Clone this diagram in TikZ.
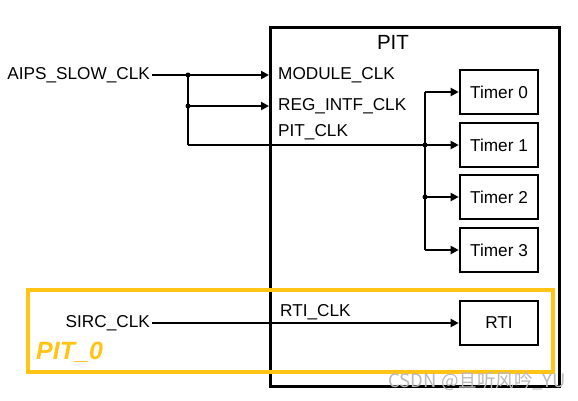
\documentclass[tikz,border=0pt]{standalone}
\usepackage{fontspec}
\setmainfont{Liberation Sans}
\newfontfamily\cjk{Noto Sans CJK SC}
\usetikzlibrary{arrows.meta}
\definecolor{pityellow}{RGB}{255,196,20}
\begin{document}
\begin{tikzpicture}[x=1pt,y=-1pt,
  lbl/.style={font=\fontsize{17.2}{19}\selectfont, inner sep=2pt},
  tbox/.style={draw, line width=2.6pt, minimum width=78pt, minimum height=44pt, font=\fontsize{17.2}{19}\selectfont, inner sep=0pt},
  wire/.style={line width=2.3pt},
  arr/.style={wire, -{Triangle[length=8pt,width=8pt]}},
  jdot/.style={circle, fill, inner sep=0pt, minimum size=5pt}]
\useasboundingbox[fill=white] (0,0) rectangle (578,401);

% PIT block
\node[draw, line width=3pt, minimum width=289pt, minimum height=359pt, anchor=north west, inner sep=0pt] (pit) at (269,26) {};
\node[font=\fontsize{20.5}{22}\selectfont, inner sep=0pt] (pitlbl) at (393,42) {PIT};

% timers
\node[tbox] (t0) at (499,92) {Timer 0};
\node[tbox] (t1) at (499,145) {Timer 1};
\node[tbox] (t2) at (499,197) {Timer 2};
\node[tbox] (t3) at (499,250) {Timer 3};
\node[tbox] (rti) at (499,323) {RTI};

% input labels
\node[lbl, anchor=east] (aips) at (152,75) {AIPS\_SLOW\_CLK};
\node[lbl, anchor=east] (sirc) at (152,323) {SIRC\_CLK};

% internal labels
\node[lbl, anchor=west, inner sep=0pt] (modclk) at (278,75) {MODULE\_CLK};
\node[lbl, anchor=west, inner sep=0pt] (regclk) at (278,106) {REG\_INTF\_CLK};
\node[lbl, anchor=west, inner sep=0pt] (pitclk) at (278,132) {PIT\_CLK};
\node[lbl, anchor=west, inner sep=0pt] (rticlk) at (280,312) {RTI\_CLK};

% junctions
\coordinate (j1) at (188,75);
\coordinate (j2) at (188,106);
\coordinate (j3) at (188,145);
\coordinate (d0) at (425,92);
\coordinate (d1) at (425,145);
\coordinate (d2) at (425,197);
\coordinate (d3) at (425,250);

% wires
\draw[arr] (aips.east) -- (aips.east -| pit.west);
\draw[arr] (j2) -- (j2 -| pit.west);
\draw[wire] (j1) -- (j3);
\draw[arr] (j3) -- (t1.west);
\draw[wire] (d0) -- (d3);
\draw[arr] (d0) -- (t0.west);
\draw[arr] (d2) -- (t2.west);
\draw[arr] (d3) -- (t3.west);
\draw[arr] (sirc.east) -- (rti.west);

\node[jdot] (dj1) at (j1) {};
\node[jdot] (dj2) at (j2) {};
\node[jdot] (dd1) at (d1) {};
\node[jdot] (dd2) at (d2) {};

% yellow highlight
\node[draw=pityellow, line width=3.6pt, minimum width=525pt, minimum height=82pt, anchor=north west, inner sep=0pt] (hl) at (26,288) {};
\node[font=\fontsize{25}{27}\selectfont\bfseries\itshape, text=pityellow, anchor=west, inner sep=0pt] (pit0) at (36,352) {PIT\_0};

% watermark
\node[font=\cjk\fontsize{18.5}{20}\selectfont, text=gray!55, anchor=east, inner sep=0pt] (wm) at (566,381) {CSDN @且听风吟\_YU};
\end{tikzpicture}
\end{document}
